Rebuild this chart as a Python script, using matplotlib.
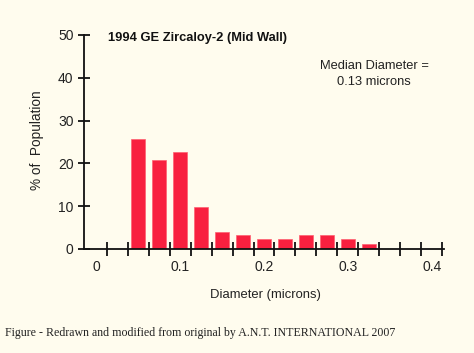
import numpy as np
import matplotlib
matplotlib.use("Agg")
import matplotlib.pyplot as plt

# bin centres (microns) and % of population
diameters = [0.05, 0.075, 0.1, 0.125, 0.15, 0.175, 0.2, 0.225, 0.25, 0.275, 0.3, 0.325]
population = [25.8, 20.8, 22.6, 9.8, 4.0, 3.2, 2.4, 2.4, 3.2, 3.2, 2.4, 1.2]
major_ticks = [0, 0.1, 0.2, 0.3, 0.4]
minor_ticks = np.arange(0.0125, 0.42, 0.025)
y_ticks = [0, 10, 20, 30, 40, 50]

bg = '#FFFCEE'
plt.rcParams['font.family'] = ['Liberation Sans', 'DejaVu Sans']

fig = plt.figure(figsize=(4.74, 3.53), dpi=100, facecolor=bg)
ax = fig.add_axes([84 / 474, 1 - 249 / 353, (444 - 84) / 474, (249 - 35) / 353])
ax.set_facecolor(bg)

ax.bar(diameters, population, width=0.0178, color='#F8203F', edgecolor='#FF6070', linewidth=0.5, zorder=2)

ax.set_xlim(-0.0143, 0.4143)
ax.set_ylim(0, 50)
for s in ['top', 'right']:
    ax.spines[s].set_visible(False)
for s in ['left', 'bottom']:
    ax.spines[s].set_linewidth(1.3)
    ax.spines[s].set_color('#111111')
ax.spines['left'].set_bounds(0, 50)

ax.set_xticks(major_ticks)
ax.set_xticklabels(['0', '0.1', '0.2', '0.3', '0.4'])
ax.set_xticks(minor_ticks, minor=True)
ax.tick_params(axis='x', which='major', length=0, pad=8, labelsize=10, labelcolor='#222222')
ax.tick_params(axis='x', which='minor', direction='inout', length=10, width=1.3, color='#111111')
ax.set_yticks(y_ticks)
ax.tick_params(axis='y', direction='inout', length=9, width=1.3, color='#111111', pad=3,
               labelsize=10, labelcolor='#222222')

ax.set_ylabel('% of  Population', fontsize=9.8, color='#222222')
ax.yaxis.set_label_coords(-(84 - 44) / 360, (249 - 140) / 214)
ax.set_xlabel('Diameter (microns)', fontsize=9.4, color='#222222')
ax.xaxis.set_label_coords((265 - 84) / 360, -40 / 214)

fig.text(108 / 474, 1 - 38 / 353, '1994 GE Zircaloy-2 (Mid Wall)', fontsize=9.3,
         fontweight='bold', color='#111111', va='center', ha='left')
fig.text(374 / 474, 1 - 74 / 353, 'Median Diameter =\n0.13 microns', fontsize=9.3,
         color='#222222', ha='center', va='center', linespacing=1.45)
fig.text(5 / 474, 1 - 333 / 353, 'Figure - Redrawn and modified from original by A.N.T. INTERNATIONAL 2007',
         fontsize=8.6, family=['Liberation Serif', 'DejaVu Serif'], color='#222222', va='center')

plt.savefig('out.png', dpi=100, facecolor=bg)
plt.close()
